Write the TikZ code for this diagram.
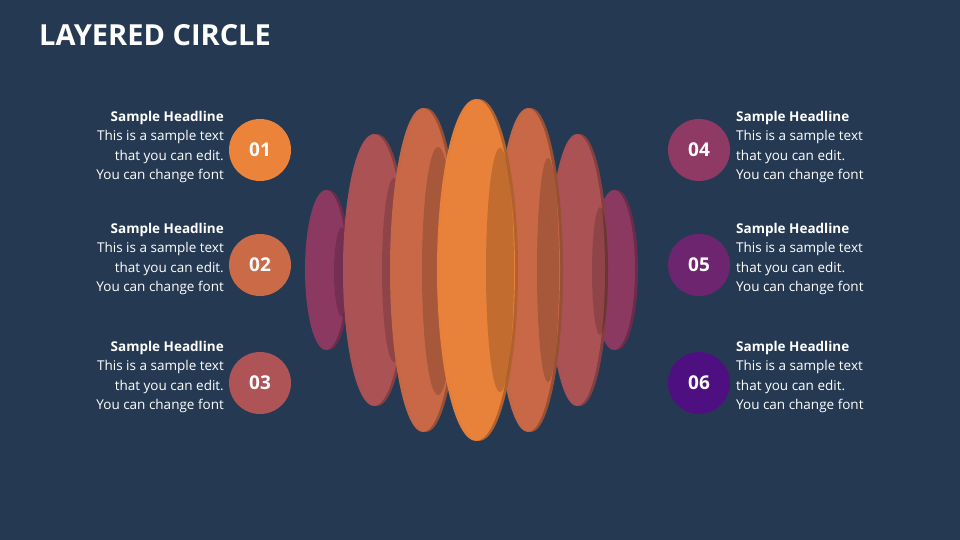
\documentclass[tikz,border=0pt]{standalone}
\usepackage{fontspec}
\setmainfont{Open Sans}
\definecolor{bg}{HTML}{253A52}
\definecolor{cpur}{HTML}{8E3A64}
\definecolor{cred}{HTML}{AE5457}
\definecolor{cor}{HTML}{CB6A47}
\definecolor{corg}{HTML}{EC833A}
\definecolor{cv1}{HTML}{6E2570}
\definecolor{cv2}{HTML}{4E1080}
\begin{document}
\begin{tikzpicture}[x=1pt,y=-1pt,
  num/.style={circle,minimum size=62pt,inner sep=0pt,text=white,font=\bfseries\fontsize{19}{19}\selectfont},
  txtL/.style={align=right,anchor=north east,text=white,font=\fontsize{13.5}{19.5}\selectfont,inner sep=0pt},
  txtR/.style={align=left,anchor=north west,text=white,font=\fontsize{13.5}{19.5}\selectfont,inner sep=0pt},
  shd/.style={fill=black,fill opacity=0.16}]
\fill[bg] (0,0) rectangle (960,540);
\useasboundingbox (0,0) rectangle (960,540);
\node[anchor=west,text=white,font=\bfseries\fontsize{29}{29}\selectfont,inner sep=0pt] (title) at (39,35) {LAYERED CIRCLE};
% discs: #1 cx, #2 rx, #3 ry, #4 color
\newcommand{\mydisc}[4]{%
  \fill[#4!75!black] (#1+3,270) ellipse [x radius=#2,y radius=#3];
  \fill[#4,fill opacity=0.95] (#1,270) ellipse [x radius=#2,y radius=#3];}
\mydisc{326}{21}{80}{cpur}
\fill[shd] (342,272) ellipse [x radius=8,y radius=45];
\mydisc{374}{31}{136}{cred}
\fill[shd] (394,270) ellipse [x radius=12,y radius=92];
\mydisc{423}{33}{162}{cor}
\fill[shd] (438,271) ellipse [x radius=16,y radius=124];
\mydisc{614}{21}{80}{cpur}
\mydisc{577}{28}{136}{cred}
\fill[shd] (600,271) ellipse [x radius=8,y radius=64];
\mydisc{528}{32}{162}{cor}
\fill[shd] (548,270) ellipse [x radius=11,y radius=112];
\mydisc{476}{39}{171}{corg}
\fill[shd] (500,270) ellipse [x radius=14,y radius=122];
% numbered circles
\node[num,fill=corg] (n1) at (260,150) {01};
\node[num,fill=cor] (n2) at (260,265) {02};
\node[num,fill=cred] (n3) at (260,383) {03};
\node[num,fill=cpur] (n4) at (699,150) {04};
\node[num,fill=cv1] (n5) at (699,265) {05};
\node[num,fill=cv2] (n6) at (699,383) {06};
\newcommand{\body}{\textbf{Sample Headline}\\This is a sample text\\that you can edit.\\You can change font}
\node[txtL] (t1) at (224,111) {\body};
\node[txtL] (t2) at (224,223) {\body};
\node[txtL] (t3) at (224,341) {\body};
\node[txtR] (t4) at (736,111) {\body};
\node[txtR] (t5) at (736,223) {\body};
\node[txtR] (t6) at (736,341) {\body};
\end{tikzpicture}
\end{document}
